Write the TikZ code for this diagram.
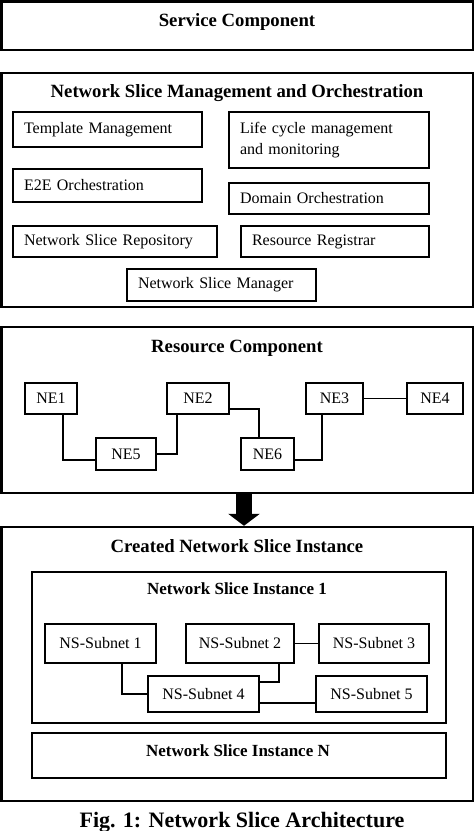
\documentclass[tikz,border=0pt]{standalone}
\usepackage{fontspec}
\setmainfont{Liberation Serif}
\usetikzlibrary{arrows.meta}
\begin{document}
\begin{tikzpicture}[x=1pt,y=-1pt,
  outerbox/.style={draw, line width=2.4pt, inner sep=0pt},
  innerbox/.style={draw, line width=1.4pt, inner sep=0pt},
  leftbox/.style={draw, line width=1.4pt, inner xsep=11pt, inner ysep=0pt, align=left,
     font=\fontsize{16}{21}\selectfont},
  nebox/.style={draw, line width=1.4pt, inner sep=0pt, font=\fontsize{16}{19}\selectfont},
  title/.style={anchor=base, inner sep=0pt, font=\fontsize{18.7}{22}\selectfont\bfseries},
  subtitle/.style={anchor=base, inner sep=0pt, font=\fontsize{17}{20}\selectfont\bfseries},
  link/.style={draw, line width=1.3pt}
]
\useasboundingbox (0,0) rectangle (474,831);

% Service component
\node[outerbox, minimum width=471.5pt, minimum height=48.5pt] (svc) at (237.25,25.75) {};
\node[title] (svct) at (237,26) {Service Component};

% NSMO
\node[outerbox, minimum width=471.5pt, minimum height=234pt] (nsmo) at (237.25,190) {};
\node[title] (nsmot) at (237,97) {Network Slice Management and Orchestration};
\node[leftbox, minimum width=189pt, minimum height=35pt, text width=167pt] (tm) at (107.5,129.5) {Template Management};
\node[leftbox, minimum width=200pt, minimum height=56pt, text width=178pt] (lc) at (329,140) {Life cycle management\\and monitoring};
\node[leftbox, minimum width=189pt, minimum height=33pt, text width=167pt] (e2e) at (107.5,185.5) {E2E Orchestration};
\node[leftbox, minimum width=200pt, minimum height=31pt, text width=178pt] (dom) at (329,198.5) {Domain Orchestration};
\node[leftbox, minimum width=204pt, minimum height=31pt, text width=182pt] (rep) at (115,241.5) {Network Slice Repository};
\node[leftbox, minimum width=188pt, minimum height=31pt, text width=166pt] (reg) at (335,241.5) {Resource Registrar};
\node[leftbox, minimum width=189pt, minimum height=32pt, text width=167pt] (mgr) at (221.5,285) {Network Slice Manager};

% Resource component
\node[outerbox, minimum width=471.5pt, minimum height=166pt] (res) at (237.25,410) {};
\node[title] (rest) at (237,352) {Resource Component};
\node[nebox, minimum width=52pt, minimum height=31pt] (ne1) at (51,398.5) {NE1};
\node[nebox, minimum width=62pt, minimum height=31pt] (ne2) at (198,398.5) {NE2};
\node[nebox, minimum width=57pt, minimum height=31pt] (ne3) at (334.5,398.5) {NE3};
\node[nebox, minimum width=56pt, minimum height=31pt] (ne4) at (435,398.5) {NE4};
\node[nebox, minimum width=60pt, minimum height=32pt] (ne5) at (126,454) {NE5};
\node[nebox, minimum width=53pt, minimum height=32pt] (ne6) at (267.5,454) {NE6};
\draw[link] ([xshift=12pt]ne1.south) |- ([yshift=-6pt]ne5.west);
\draw[link] (ne5.east) -| ([xshift=-21pt]ne2.south);
\draw[link] ([yshift=-10.5pt]ne2.east) -| ([xshift=-8.5pt]ne6.north);
\draw[link] ([yshift=-6pt]ne6.east) -| ([xshift=-12.5pt]ne3.south);
\draw[link] (ne3.east) -- (ne4.west);

% Created network slice instance
\node[outerbox, minimum width=471.5pt, minimum height=274pt] (cnsi) at (237.25,664) {};
\draw[line width=16pt, -{Triangle[length=12pt, width=31pt]}] (res.south -| 244,0) -- (cnsi.north -| 244,0);
\node[title] (cnsit) at (237,552) {Created Network Slice Instance};
\node[draw, line width=1.8pt, inner sep=0pt, minimum width=414pt, minimum height=151pt] (nsi1) at (239,647.5) {};
\node[subtitle] (nsi1t) at (237,594) {Network Slice Instance 1};
\node[nebox, minimum width=111pt, minimum height=39pt] (ns1) at (100.5,643.5) {NS-Subnet 1};
\node[nebox, minimum width=108pt, minimum height=39pt] (ns2) at (240,643.5) {NS-Subnet 2};
\node[nebox, minimum width=110pt, minimum height=39pt] (ns3) at (374,643.5) {NS-Subnet 3};
\node[nebox, minimum width=111pt, minimum height=36pt] (ns4) at (203.5,694) {NS-Subnet 4};
\node[nebox, minimum width=111pt, minimum height=36pt] (ns5) at (371.5,694) {NS-Subnet 5};
\draw[link] ([xshift=21.5pt]ns1.south) |- (ns4.west);
\draw[link] ([xshift=39pt]ns2.south) |- ([yshift=12pt]ns4.east);
\draw[link] (ns2.east) -- (ns3.west);
\draw[link] ([yshift=-9pt]ns4.east) -- ([yshift=-9pt]ns5.west);
\node[draw, line width=1.8pt, inner sep=0pt, minimum width=414pt, minimum height=45pt] (nsin) at (239,755.5) {};
\node[subtitle] (nsint) at (238,756) {Network Slice Instance N};

% Caption
\node[anchor=base, inner sep=0pt, font=\fontsize{22}{26}\selectfont\bfseries] (cap) at (242,827) {Fig. 1: Network Slice Architecture};
\end{tikzpicture}
\end{document}
